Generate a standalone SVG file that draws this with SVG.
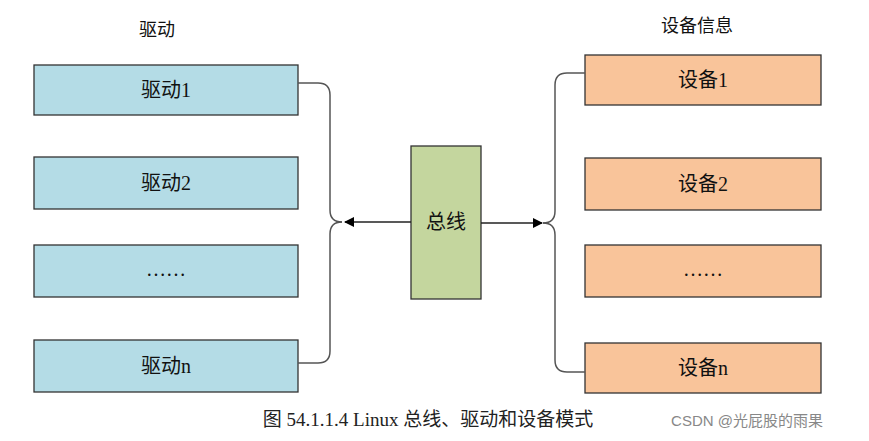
<svg xmlns="http://www.w3.org/2000/svg" width="869" height="441" viewBox="0 0 869 441">
<style>
.t{font-family:"Liberation Serif","Noto Sans CJK SC",serif;font-size:20px;fill:#111;text-anchor:middle}
.h{font-family:"Noto Sans CJK SC",sans-serif;font-size:18px;fill:#111;text-anchor:middle}
.d{fill:#b4dce6;stroke:#333;stroke-width:1.3}
.v{fill:#f9c49a;stroke:#333;stroke-width:1.3}
.c{fill:none;stroke:#555;stroke-width:1.5}
</style>
<defs><marker id="a" markerWidth="10" markerHeight="10" refX="9" refY="5" orient="auto" markerUnits="userSpaceOnUse"><path d="M0,0L10,5L0,10z" fill="#000"/></marker></defs>
<rect width="869" height="441" fill="#fff"/>
<text class="h" x="157" y="36">驱动</text>
<text class="h" x="697" y="32">设备信息</text>
<g id="d1"><rect class="d" x="34" y="65" width="264" height="50"/><text class="t" x="166" y="97">驱动1</text></g>
<g id="d2"><rect class="d" x="34" y="157" width="264" height="52"/><text class="t" x="166" y="190">驱动2</text></g>
<g id="d3"><rect class="d" x="34" y="245" width="264" height="52"/><text class="t" x="166" y="276">……</text></g>
<g id="d4"><rect class="d" x="34" y="340" width="264" height="52"/><text class="t" x="166" y="373">驱动n</text></g>
<g id="v1"><rect class="v" x="585" y="55" width="236" height="50"/><text class="t" x="703" y="87">设备1</text></g>
<g id="v2"><rect class="v" x="585" y="158" width="236" height="52"/><text class="t" x="703" y="191">设备2</text></g>
<g id="v3"><rect class="v" x="585" y="245" width="236" height="52"/><text class="t" x="703" y="276">……</text></g>
<g id="v4"><rect class="v" x="585" y="343" width="236" height="50"/><text class="t" x="703" y="375">设备n</text></g>
<g id="bus"><rect x="411" y="146" width="70" height="153" fill="#c4d69e" stroke="#333" stroke-width="1.3"/><text class="t" x="446" y="229">总线</text></g>
<g id="conn">
<path class="c" d="M298,83H318Q330,83 330,95V210Q330,222 342,222"/>
<path class="c" d="M298,363H318Q330,363 330,351V234Q330,222 342,222"/>
<path d="M411,222H345" stroke="#222" stroke-width="1.5" marker-end="url(#a)"/>
<path d="M481,223H542" stroke="#222" stroke-width="1.5" marker-end="url(#a)"/>
<path class="c" d="M585,73H567Q555,73 555,85V211Q555,223 543,223"/>
<path class="c" d="M585,372H567Q555,372 555,360V235Q555,223 543,223"/>
</g>
<text x="428" y="426" style="font-family:'Liberation Serif','Noto Sans CJK SC',serif;font-size:19px;fill:#222;text-anchor:middle">图 54.1.1.4 Linux 总线、驱动和设备模式</text>
<text x="747" y="426" style="font-family:'Liberation Sans','Noto Sans CJK SC',sans-serif;font-size:15px;fill:#888;text-anchor:middle">CSDN @光屁股的雨果</text>
</svg>
